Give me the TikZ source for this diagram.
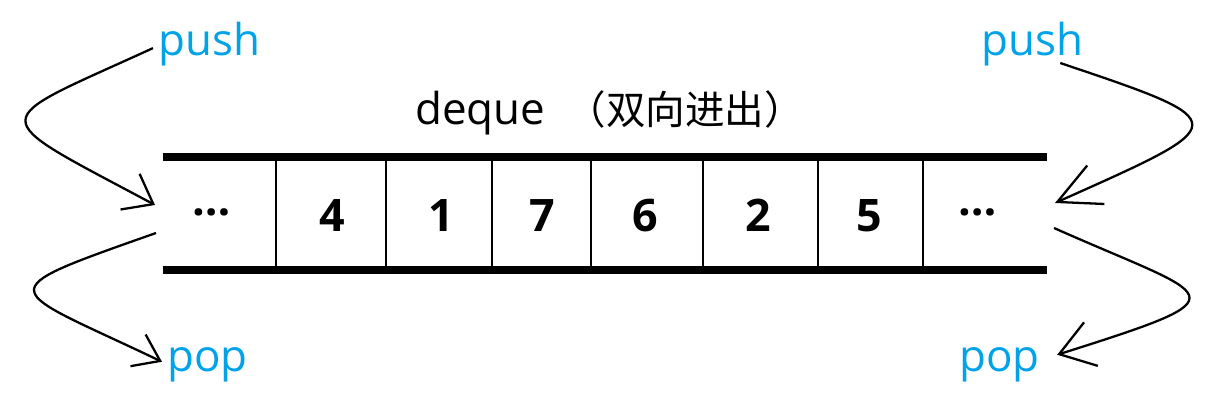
\documentclass[tikz,border=0pt]{standalone}
\usepackage{fontspec}
\setmainfont{Open Sans}
\newfontfamily\cjkfont{Noto Sans CJK SC}
\usetikzlibrary{arrows.meta}
\definecolor{opblue}{RGB}{0,162,232}
\newcommand\middots{\raisebox{0.36em}{…}}

\begin{document}
\begin{tikzpicture}[x=0.02cm,y=-0.02cm,
    optext/.style={text=opblue, inner sep=0pt, outer sep=3pt, anchor=base west, font=\fontsize{25}{30}\selectfont},
    cellnum/.style={inner sep=0pt, anchor=base, font=\fontsize{25.5}{30}\selectfont\bfseries},
    rail/.style={line width=4.2pt},
    divider/.style={line width=1.1pt},
    flow/.style={line width=1.3pt}]
        \useasboundingbox (0,0) rectangle (1218,418);
        \def\railtop{157}
        \def\railbot{270}

        %title
        \node[anchor=base west, inner sep=0pt, font=\fontsize{25}{30}\selectfont] (title) at (415,125) {deque\hspace{12pt}{\cjkfont\fontsize{22.5}{30}\selectfont （双向进出）}};

        %rails
        \draw[rail] (163,\railtop) -- (1047,\railtop);
        \draw[rail] (163,\railbot) -- (1047,\railbot);

        %dividers
        \foreach \x in {276,386,492,591,703,818,923}
            \draw[divider] (\x,\railtop) -- (\x,\railbot);

        %cells
        \foreach \v/\x [count=\i] in {\middots/212,4/332,1/441,7/542,6/645,2/758,5/869,\middots/978}
            \node[cellnum] (c\i) at (\x,232) {\v};

        %ends
        \coordinate (inL) at (155,205);
        \coordinate (outL) at (156,233);
        \coordinate (inR) at (1055,203);
        \coordinate (outR) at (1054,228);

        %labels
        \node[optext] (pushL) at (153,56) {push};
        \node[optext] (pushR) at (976,56) {push};
        \node[optext] (popL) at (162,372) {pop};
        \node[optext] (popR) at (954,372) {pop};

        %left side
        \draw[flow, -{Straight Barb[length=15pt,width=23pt]}] ([yshift=-2pt]pushL.west) .. controls +(-168,77) and +(-174,-93) .. (inL);
        \draw[flow, -{Straight Barb[length=14pt,width=20pt]}] (outL) .. controls +(-173,61) and +(-159,-76) .. ([yshift=2pt]popL.west);

        %right side
        \draw[flow, -{Straight Barb[length=24pt,width=24pt]}] ([xshift=16pt,yshift=5pt]pushR.south) .. controls +(179,60) and +(179,-80) .. (inR);
        \draw[flow, -{Straight Barb[length=19pt,width=26pt]}] (outR) .. controls +(162,72) and +(193,-61) .. ([xshift=7pt,yshift=6pt]popR.east);
\end{tikzpicture}
\end{document}
